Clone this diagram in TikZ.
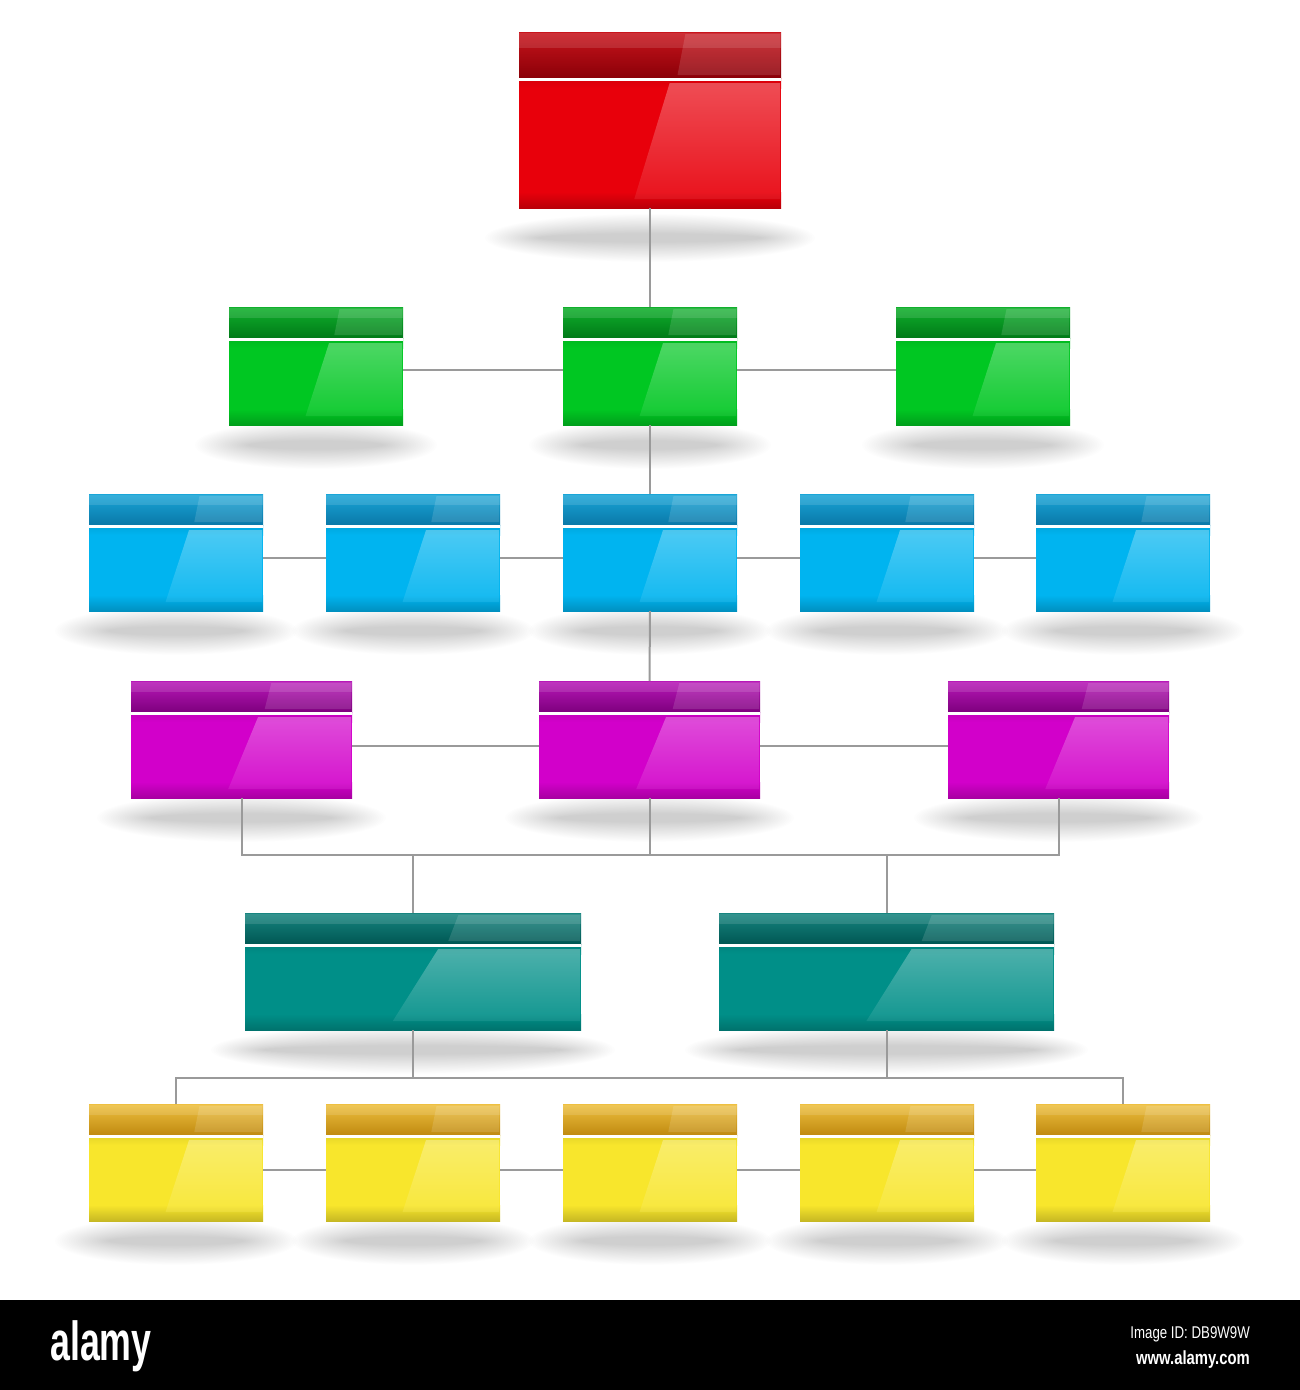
\documentclass[tikz,border=0pt]{standalone}
\usepackage{fontspec}
\setmainfont{Liberation Sans}
\usetikzlibrary{calc}
% colours
\definecolor{redbase}{HTML}{E8000B}\definecolor{redhtop}{HTML}{C8141C}\definecolor{redhbot}{HTML}{8A0008}
\definecolor{grnbase}{HTML}{00C722}\definecolor{grnhtop}{HTML}{10B02C}\definecolor{grnhbot}{HTML}{007A18}
\definecolor{blubase}{HTML}{00B4F0}\definecolor{bluhtop}{HTML}{1AA6D8}\definecolor{bluhbot}{HTML}{0A78A8}
\definecolor{purbase}{HTML}{D200CA}\definecolor{purhtop}{HTML}{B818B8}\definecolor{purhbot}{HTML}{7E007E}
\definecolor{tealbase}{HTML}{008F88}\definecolor{tealhtop}{HTML}{178580}\definecolor{tealhbot}{HTML}{005753}
\definecolor{yelbase}{HTML}{F8E62C}\definecolor{yelhtop}{HTML}{EEC040}\definecolor{yelhbot}{HTML}{C08A10}
\definecolor{connc}{HTML}{9A9A9A}
\tikzset{
  conn/.style={draw=connc, line width=2},
  boxnode/.style={inner sep=0, outer sep=0, draw=none},
}
% #1 name, #2 x1, #3 y1, #4 x2, #5 y2, #6 header height, #7 colour prefix
\newcommand\orgbox[7]{%
  \pgfmathsetmacro\ocx{(#2+#4)/2}%
  \pgfmathsetmacro\ocy{(#3+#5)/2}%
  \pgfmathsetmacro\ow{#4-#2}%
  \pgfmathsetmacro\oh{#5-#3}%
  \pgfmathsetmacro\osy{#5+0.17*\oh}%
  \foreach \k in {0,...,23}{%
    \fill[black,opacity=0.0095] (\ocx,\osy) ellipse[x radius={\ow/2+34-2.3*\k}, y radius={24-0.85*\k}];
  }
  \fill[#7base] (#2,#3) rectangle (#4,#5);
  \shade[top color=#7base, bottom color=#7base!80!black] (#2,#5-16) rectangle (#4,#5);
  \shade[top color=#7base!92!black, bottom color=#7base] (#2,#3+#6) rectangle (#4,#3+#6+10);
  \shade[top color=#7htop, bottom color=#7hbot] (#2,#3) rectangle (#4,#3+#6);
  \fill[white,opacity=0.12] (#2,#3+1) rectangle (#4,#3+0.35*#6);
  \fill[white,opacity=0.13] (#2+0.635*\ow,#3+2) -- (#4-1,#3+2) -- (#4-1,#3+#6-3) -- (#2+0.605*\ow,#3+#6-3) -- cycle;
  \shade[top color=white, bottom color=#7base!75!white, opacity=0.3] (#2+0.575*\ow,#3+#6+5) -- (#4-1,#3+#6+5) -- (#4-1,#5-9) -- (#2+0.44*\ow,#5-9) -- cycle;
  \draw[white, line width=2.2] (#2,#3+#6+1.5) -- (#4,#3+#6+1.5);
  \node[boxnode, minimum width=\ow pt, minimum height=\oh pt] (#1) at (\ocx,\ocy) {};
}
\begin{document}
\begin{tikzpicture}[x=1pt,y=-1pt]
\useasboundingbox (0,0) rectangle (1300,1390);
\fill[white] (0,0) rectangle (1300,1390);
% boxes
\orgbox{r}{519}{32}{781}{208}{46}{red}
\orgbox{g1}{229}{307}{403}{425}{31}{grn}
\orgbox{g2}{563}{307}{737}{425}{31}{grn}
\orgbox{g3}{896}{307}{1070}{425}{31}{grn}
\orgbox{b1}{89}{494}{263}{611}{31}{blu}
\orgbox{b2}{326}{494}{500}{611}{31}{blu}
\orgbox{b3}{563}{494}{737}{611}{31}{blu}
\orgbox{b4}{800}{494}{974}{611}{31}{blu}
\orgbox{b5}{1036}{494}{1210}{611}{31}{blu}
\orgbox{p1}{131}{681}{352}{798}{31}{pur}
\orgbox{p2}{539}{681}{760}{798}{31}{pur}
\orgbox{p3}{948}{681}{1169}{798}{31}{pur}
\orgbox{t1}{245}{913}{581}{1030}{31}{teal}
\orgbox{t2}{719}{913}{1054}{1030}{31}{teal}
\orgbox{y1}{89}{1104}{263}{1221}{31}{yel}
\orgbox{y2}{326}{1104}{500}{1221}{31}{yel}
\orgbox{y3}{563}{1104}{737}{1221}{31}{yel}
\orgbox{y4}{800}{1104}{974}{1221}{31}{yel}
\orgbox{y5}{1036}{1104}{1210}{1221}{31}{yel}
% connectors
\draw[conn] (r.south) -- (g2.north);
\draw[conn] ([yshift=-4pt]g1.east) -- ([yshift=-4pt]g2.west);
\draw[conn] ([yshift=-4pt]g2.east) -- ([yshift=-4pt]g3.west);
\draw[conn] (g2.south) -- (b3.north);
\foreach \a/\b in {b1/b2,b2/b3,b3/b4,b4/b5}
  \draw[conn] ([yshift=-5.5pt]\a.east) -- ([yshift=-5.5pt]\b.west);
\draw[conn] (b3.south) -- (p2.north);
\draw[conn] ([yshift=-6.5pt]p1.east) -- ([yshift=-6.5pt]p2.west);
\draw[conn] ([yshift=-6.5pt]p2.east) -- ([yshift=-6.5pt]p3.west);
\coordinate (bus1) at (650,855);
\coordinate (bus2) at (650,1078);
\draw[conn] (p1.south) -- (p1.south |- bus1) -- (p3.south |- bus1) -- (p3.south);
\draw[conn] (p2.south) -- (p2.south |- bus1);
\draw[conn] (t1.north) -- (t1.north |- bus1);
\draw[conn] (t2.north) -- (t2.north |- bus1);
\draw[conn] (t1.south) -- (t1.south |- bus2);
\draw[conn] (t2.south) -- (t2.south |- bus2);
\draw[conn] (y1.north) -- (y1.north |- bus2) -- (y5.north |- bus2) -- (y5.north);
\foreach \a/\b in {y1/y2,y2/y3,y3/y4,y4/y5}
  \draw[conn] ([yshift=-7.5pt]\a.east) -- ([yshift=-7.5pt]\b.west);
% bottom bar
\fill[black] (0,1300) rectangle (1300,1390);
\node[white, anchor=base west, inner sep=0, font=\fontsize{55}{55}\selectfont\bfseries] (logo) at (50,1360) {\scalebox{0.65}[1]{alamy}};
\node[white, anchor=base east, inner sep=0, font=\fontsize{17}{17}\selectfont] (imgid) at (1250,1338) {\scalebox{0.78}[1]{Image ID: DB9W9W}};
\node[white, anchor=base east, inner sep=0, font=\fontsize{19}{19}\selectfont\bfseries] (url) at (1250,1364) {\scalebox{0.78}[1]{www.alamy.com}};
\end{tikzpicture}
\end{document}
